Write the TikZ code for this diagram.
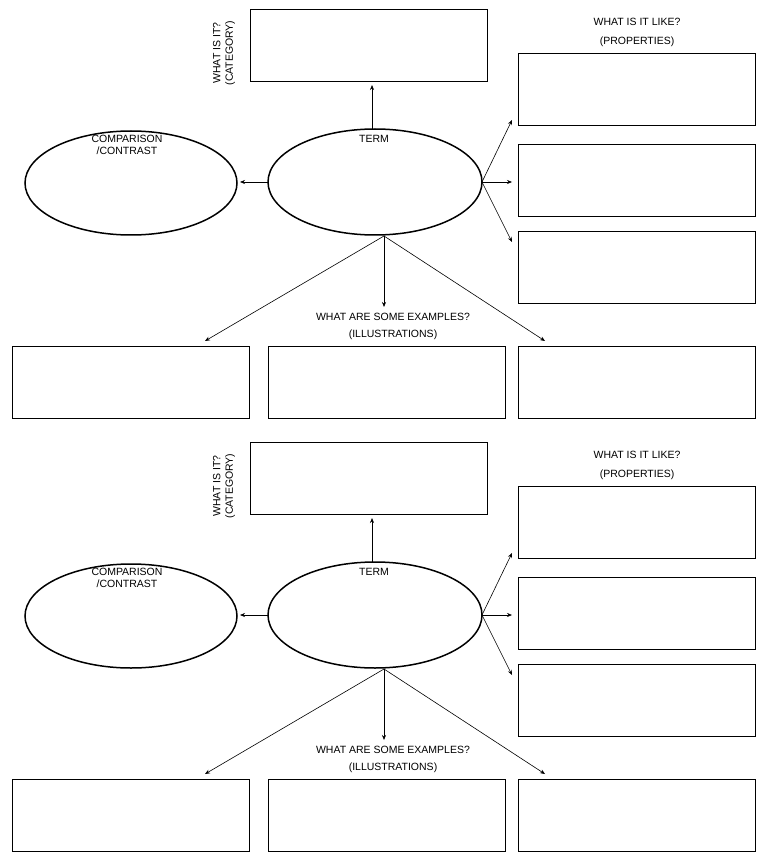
\documentclass[tikz,border=0pt]{standalone}
\usepackage{fontspec}
\setmainfont{Liberation Sans}
\usetikzlibrary{shapes.geometric,arrows.meta}
\begin{document}
\begin{tikzpicture}[x=1pt,y=-1pt,
  box/.style={draw,line width=1pt,minimum width=237pt,minimum height=72pt,inner sep=0,anchor=north west},
  ell/.style={draw,ellipse,line width=1.5pt,inner sep=0},
  lab/.style={font=\fontsize{10.5}{12.5}\selectfont,inner sep=0},
  arr/.style={-{Stealth[length=5pt,width=4pt]},line width=0.6pt}]
\useasboundingbox (0,0) rectangle (768,866);
\foreach \o/\s in {0/a,433/b}{
\begin{scope}[yshift=-\o]
\node[box] (cat\s) at (250,9) {};
\node[lab,rotate=90,align=center] at (224,53) {WHAT IS IT?\\(CATEGORY)};
\node[lab] at (637,22) {WHAT IS IT LIKE?};
\node[lab] at (637,42) {(PROPERTIES)};
\node[box] (p1\s) at (518,53) {};
\node[box] (p2\s) at (518,144) {};
\node[box] (p3\s) at (518,231) {};
\node[ell,minimum width=214pt,minimum height=106pt] (term\s) at (375,182) {};
\node[lab] at (374,139) {TERM};
\node[ell,minimum width=212pt,minimum height=104pt] (cmp\s) at (131,183) {};
\node[lab,align=center] at (127,145) {COMPARISON\\/CONTRAST};
\node[lab] at (393,317) {WHAT ARE SOME EXAMPLES?};
\node[lab] at (393,335) {(ILLUSTRATIONS)};
\node[box] (e1\s) at (12,346) {};
\node[box] (e2\s) at (268,346) {};
\node[box] (e3\s) at (518,346) {};
\coordinate (tt\s) at (372,129);
\coordinate (tc\s) at (372,85);
\coordinate (tl\s) at (268,182);
\coordinate (cl\s) at (240,182);
\coordinate (tr\s) at (482,182);
\coordinate (r1\s) at (512,120);
\coordinate (r2\s) at (512,182);
\coordinate (r3\s) at (512,242);
\coordinate (tb\s) at (384,236);
\coordinate (b1\s) at (205,341);
\coordinate (b2\s) at (384,307);
\coordinate (b3\s) at (545,341);
\draw[arr] (tt\s) -- (tc\s);
\draw[arr] (tl\s) -- (cl\s);
\draw[arr] (tr\s) -- (r1\s);
\draw[arr] (tr\s) -- (r2\s);
\draw[arr] (tr\s) -- (r3\s);
\draw[arr] (tb\s) -- (b1\s);
\draw[arr] (tb\s) -- (b2\s);
\draw[arr] (tb\s) -- (b3\s);
\end{scope}}
\end{tikzpicture}
\end{document}
